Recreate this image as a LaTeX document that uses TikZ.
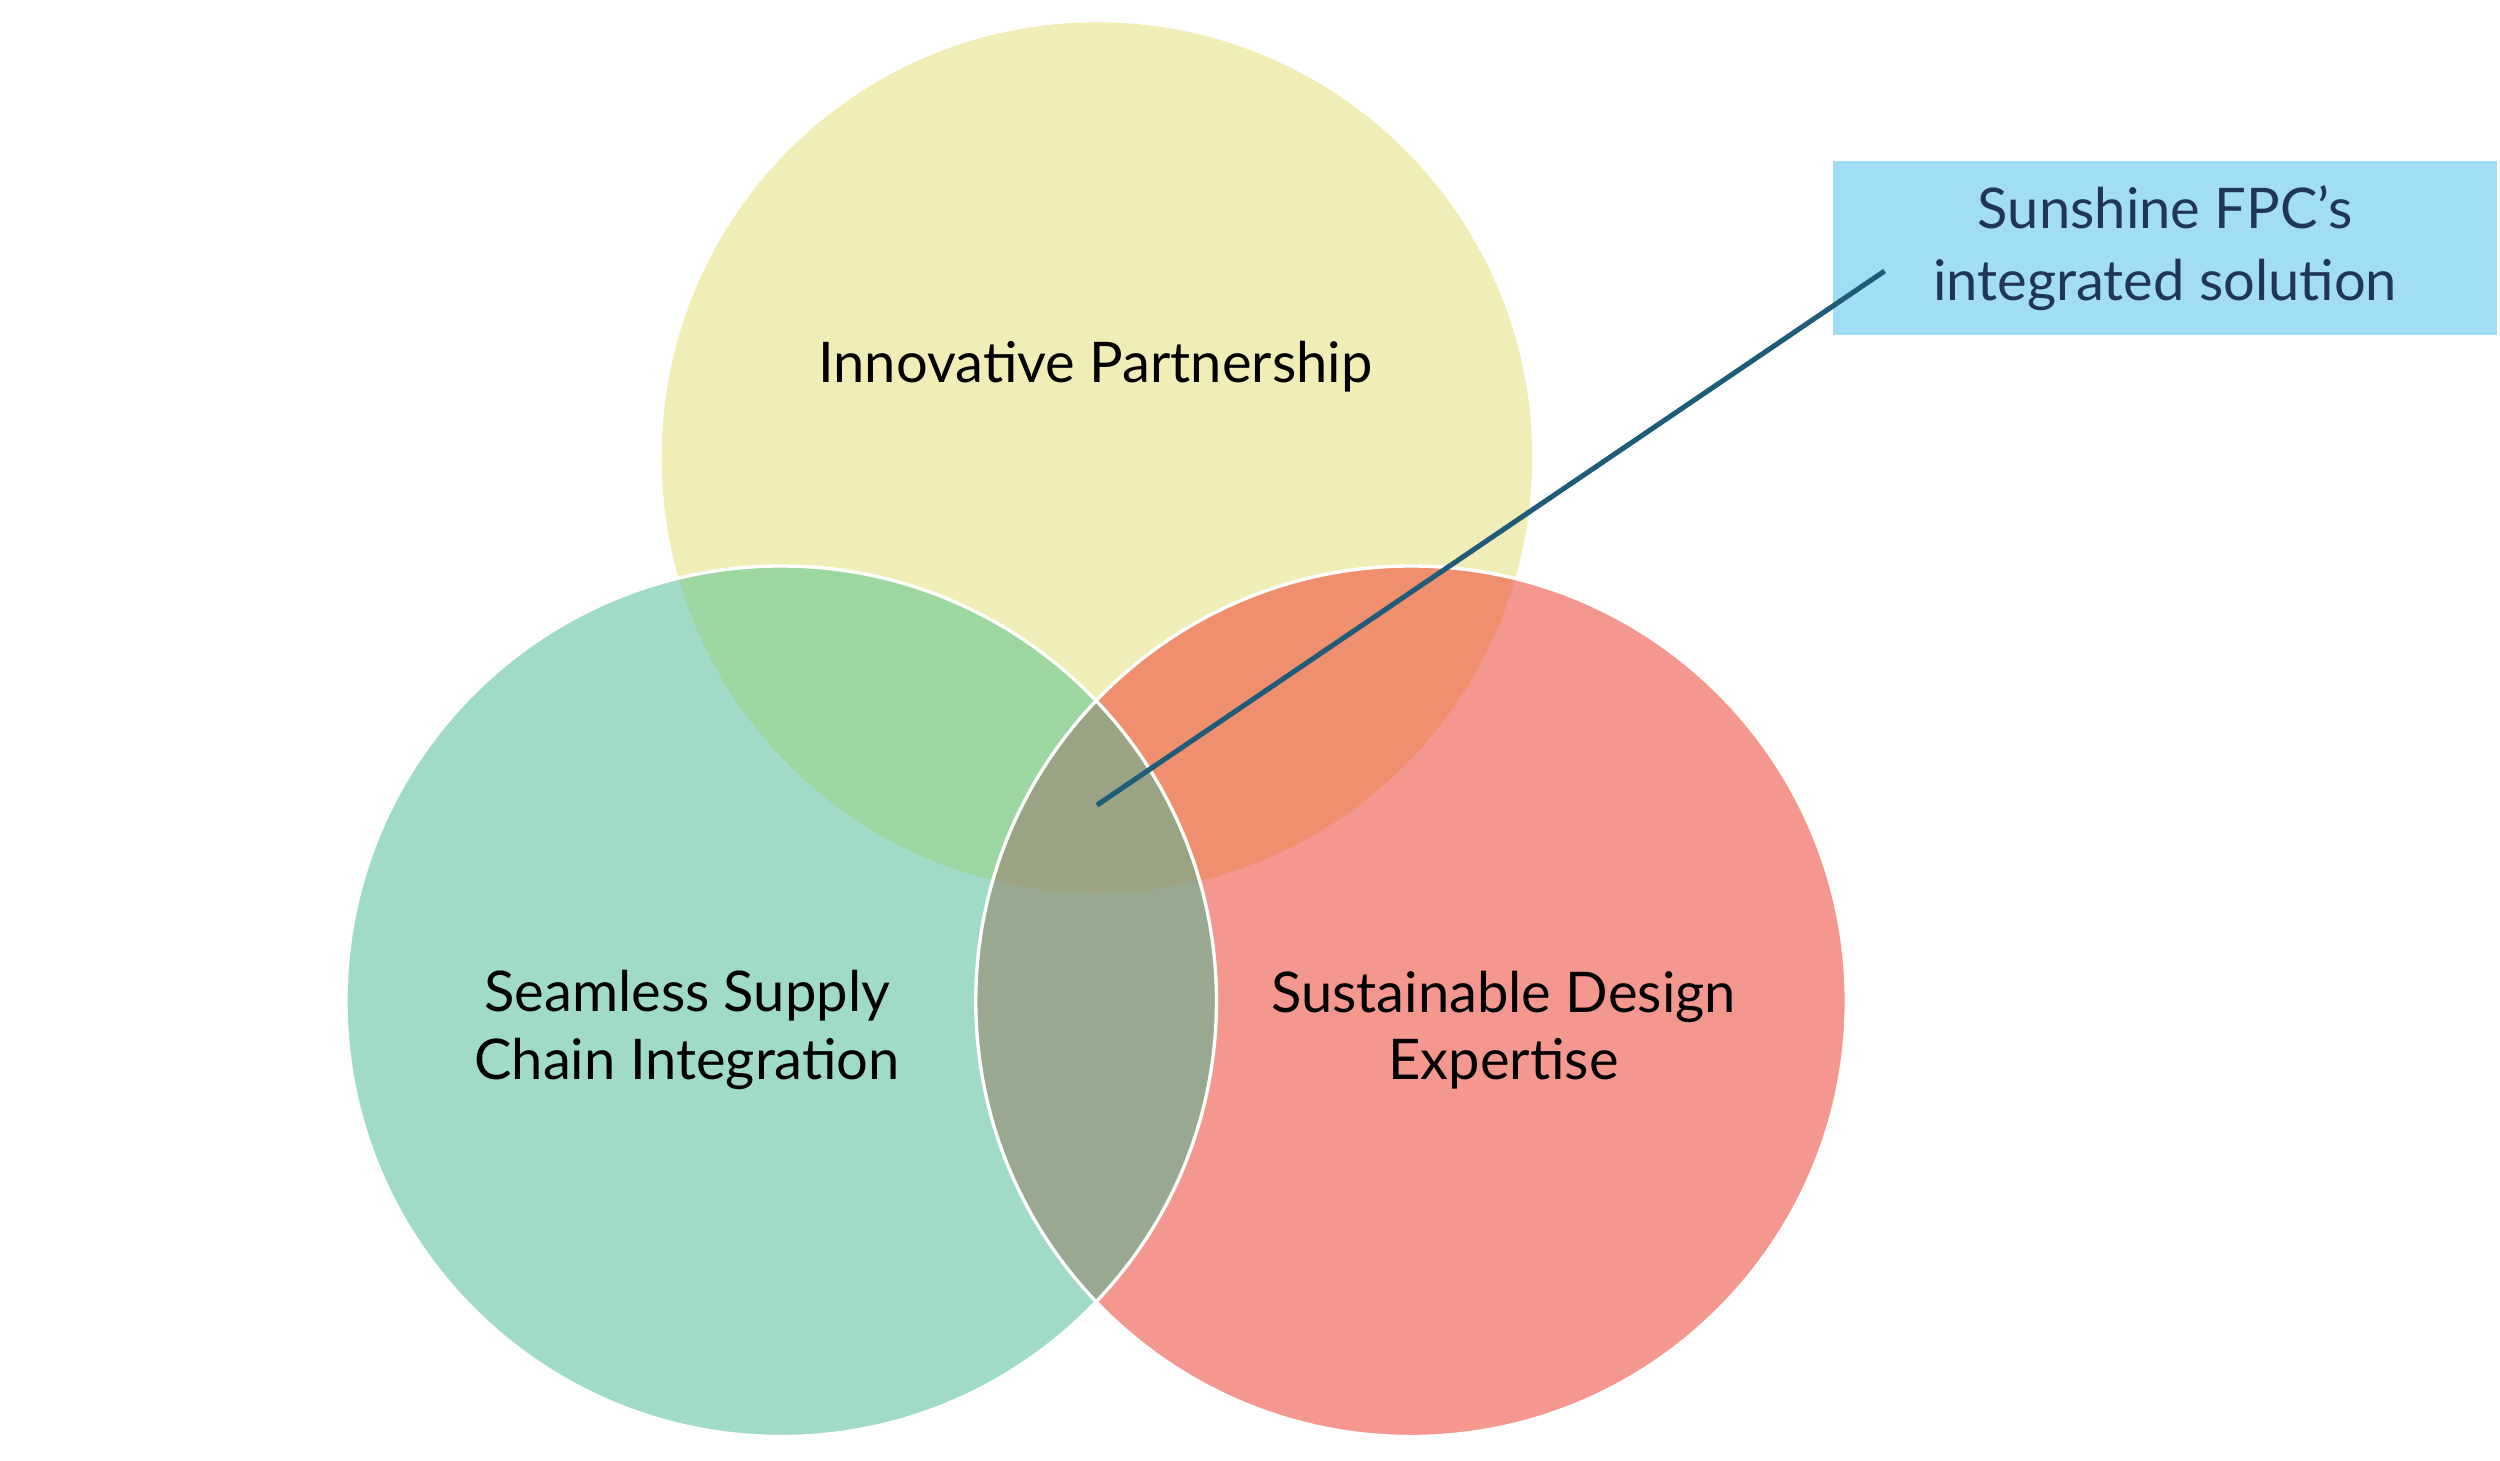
\documentclass[tikz,border=0pt]{standalone}
\usepackage{fontspec}
\setmainfont{Lato}
\definecolor{yellowc}{HTML}{F0EEB6}
\definecolor{tealc}{HTML}{A0DBC8}
\definecolor{redc}{HTML}{F4978E}
\definecolor{yellowteal}{HTML}{9CD6A0}
\definecolor{yellowred}{HTML}{EF8F6D}
\definecolor{tealred}{HTML}{98A98F}
\definecolor{allthree}{HTML}{9AA383}
\definecolor{boxc}{HTML}{A1DDF4}
\definecolor{navy}{HTML}{1F3656}
\definecolor{linec}{HTML}{1F5C7A}
\begin{document}
\begin{tikzpicture}[x=0.01cm,y=-0.01cm]
\tikzset{
  set/.style={circle, minimum size=5.46cm, inner sep=0pt},
  lbl/.style={font=\fontsize{10}{12}\selectfont, align=center, text=black},
}
\useasboundingbox (0,0) rectangle (1568,916);
% Circles
\fill[yellowc] (688,287) circle (273);
\fill[tealc] (490,628) circle (273);
\fill[redc] (885,628) circle (273);
% Overlaps
\begin{scope}
\clip (688,287) circle (273);
\fill[yellowteal] (490,628) circle (273);
\fill[yellowred] (885,628) circle (273);
\end{scope}
\begin{scope}
\clip (490,628) circle (273);
\fill[tealred] (885,628) circle (273);
\clip (885,628) circle (273);
\fill[allthree] (688,287) circle (273);
\end{scope}
\draw[white, line width=0.6pt] (490,628) circle (273);
\draw[white, line width=0.6pt] (885,628) circle (273);
% Nodes
\node[set] (partner) at (688,287) {};
\node[set] (supply) at (490,628) {};
\node[set] (design) at (885,628) {};
\node[lbl] (partnerlbl) at (687,230) {Innovative Partnership};
\node[lbl] (supplylbl) at (431,646) {Seamless Supply\\Chain Integration};
\node[lbl] (designlbl) at (943,646) {Sustainable Design\\Expertise};
\node[fill=boxc, minimum width=4.16cm, minimum height=1.09cm, inner sep=0pt,
  font=\fontsize{10}{12.8}\selectfont, align=center, text=navy] (solution) at (1358,155.5) {Sunshine FPC’s\\integrated solution};
% Connector
\coordinate (hub) at (688,505);
\coordinate (tip) at (1182,170);
\draw[linec, line width=0.9pt] (hub) -- (tip);
\end{tikzpicture}
\end{document}
